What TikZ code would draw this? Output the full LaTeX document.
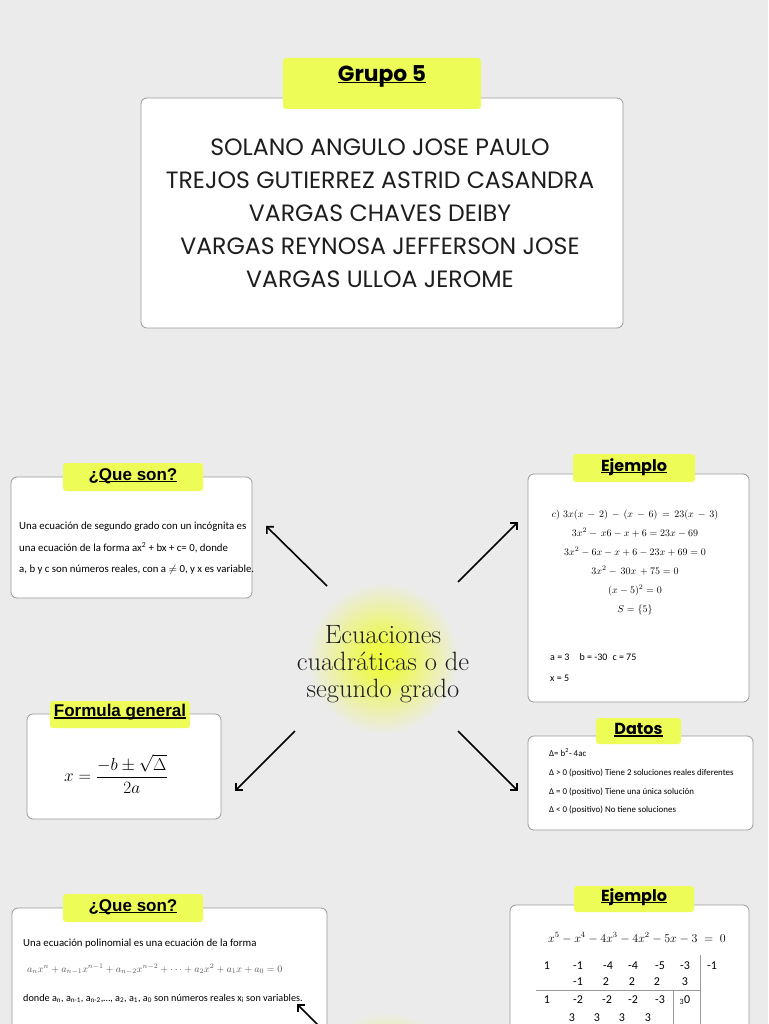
\documentclass[tikz,border=0pt]{standalone}
\usepackage{fontspec}
\usepackage{amsmath}
\usetikzlibrary{arrows.meta}
\newfontfamily\popf{Poppins}
\newfontfamily\arialf{Liberation Sans}
\newfontfamily\carlf{Carlito}
\definecolor{bg}{HTML}{EBEBEB}
\definecolor{tabyellow}{HTML}{EDFC57}
\definecolor{glowy}{HTML}{EEFA3A}
\definecolor{boxline}{HTML}{9A9A9A}
\definecolor{formgrey}{HTML}{555555}
\definecolor{ink}{HTML}{1E1E1E}
\pgfdeclareradialshading{glowshade}{\pgfpoint{0bp}{0bp}}{color(0bp)=(glowy); color(6bp)=(glowy!88!bg); color(15bp)=(glowy!45!bg); color(25bp)=(bg); color(50bp)=(bg)}
\newcommand{\myul}[1]{\setbox0\hbox{#1}\rlap{\rule[-2.2pt]{\wd0}{1.3pt}}\box0}
\tikzset{
  card/.style={draw=boxline, line width=0.8pt, fill=white, rounded corners=6pt, inner sep=0pt},
  tab/.style={fill=tabyellow, rounded corners=3pt, inner sep=0pt},
  headpop/.style={inner sep=0pt, font=\popf\bfseries\fontsize{16}{18}\selectfont},
  headarial/.style={inner sep=0pt, font=\arialf\bfseries\fontsize{17}{19}\selectfont},
  body/.style={anchor=base west, inner sep=0pt, font=\carlf\fontsize{10.8}{12}\selectfont},
  small/.style={anchor=base west, inner sep=0pt, font=\carlf\fontsize{8.9}{10}\selectfont},
  mathline/.style={anchor=base, inner sep=0pt, font=\fontsize{10}{12}\selectfont},
  num/.style={anchor=base, inner sep=0pt, font=\carlf\fontsize{12}{14}\selectfont},
  arr/.style={line width=1.6pt, -{Straight Barb[length=5pt,width=10pt,line width=1.6pt]}},
  rule/.style={draw=boxline, line width=0.7pt}
}
\begin{document}
\begin{tikzpicture}[x=1pt,y=-1pt]
\useasboundingbox (0,0) rectangle (768,1024);
\clip (0,0) rectangle (768,1024);
\fill[bg] (0,0) rectangle (768,1024);

% glows
\shade[shading=glowshade] (383,658) circle (76pt);
\shade[shading=glowshade] (386,1088) circle (76pt);

% group box
\node[card, minimum width=482pt, minimum height=230pt] (groupbox) at (382,213) {};
\node[tab, minimum width=198pt, minimum height=51pt] (grouptab) at (382,83.5) {};
\node[inner sep=0pt, font=\popf\bfseries\fontsize{21.8}{24}\selectfont] (grouplbl) at (382,76) {\myul{Grupo 5}};
\node[text=ink, font=\popf\fontsize{23.6}{33}\selectfont, align=center, inner sep=0pt] (names) at (380,213)
  {SOLANO ANGULO JOSE PAULO\\TREJOS GUTIERREZ ASTRID CASANDRA\\VARGAS CHAVES DEIBY\\VARGAS REYNOSA JEFFERSON JOSE\\VARGAS ULLOA JEROME};

% center topic
\node[text=ink, font=\fontsize{26.5}{27}\selectfont, align=center, inner sep=0pt] (title) at (383,664)
  {Ecuaciones\\cuadráticas o de\\segundo grado};

% que son box
\node[card, minimum width=241pt, minimum height=121pt] (qsbox) at (131.5,537.5) {};
\node[tab, minimum width=140pt, minimum height=28pt] (qstab) at (133,477) {};
\node[headarial] (qslbl) at (133,476) {¿\myul{Que son?}};
\node[body] (qs1) at (19,529) {Una ecuación de segundo grado con un incógnita es};
\node[body] (qs2) at (19,551) {una ecuación de la forma ax\textsuperscript{2} + bx + c= 0, donde};
\node[body] (qs3) at (19,572) {a, b y c son números reales, con a $\neq$ 0, y x es variable.};

% ejemplo box
\node[card, minimum width=221pt, minimum height=228pt] (ejbox) at (638.5,588) {};
\node[tab, minimum width=122pt, minimum height=28pt] (ejtab) at (634,468) {};
\node[headpop] (ejlbl) at (634,467) {\myul{Ejemplo}};
\node[mathline] (e1) at (635,517) {$c)\ 3x(x\,-\,2)\,-\,(x\,-\,6)\,=\,23(x\,-\,3)$};
\node[mathline] (e2) at (635,536) {$3x^2-\,x6-x+6=23x-69$};
\node[mathline] (e3) at (635,555) {$3x^2-6x-x+6-23x+69=0$};
\node[mathline] (e4) at (635,574) {$3x^2-\,30x\,+75=0$};
\node[mathline] (e5) at (635,593) {$(x-5)^2=0$};
\node[mathline] (e6) at (635,612) {$S=\{5\}$};
\node[anchor=base west, inner sep=0pt, font=\carlf\fontsize{10}{12}\selectfont] (abc) at (550,660) {a = 3\hspace{1em}b = -30\hspace{0.5em}c = 75};
\node[anchor=base west, inner sep=0pt, font=\carlf\fontsize{10}{12}\selectfont] (xs) at (550,681) {x = 5};

% formula general
\node[card, minimum width=194pt, minimum height=105pt] (fgbox) at (124,766.5) {};
\node[tab, minimum width=140pt, minimum height=27pt] (fgtab) at (120,714.5) {};
\node[headarial] (fglbl) at (120,712) {\myul{Formula general}};
\node[inner sep=0pt, font=\fontsize{16}{19}\selectfont] (fg) at (116,774) {$\displaystyle x = \frac{-b\pm\sqrt{\Delta}}{2a}$};

% datos
\node[card, minimum width=225pt, minimum height=94pt] (dtbox) at (640.5,783) {};
\node[tab, minimum width=85pt, minimum height=26pt] (dttab) at (638.5,731) {};
\node[headpop] (dtlbl) at (638.5,730) {\myul{Datos}};
\node[small] (d1) at (549,756) {Δ= b\textsuperscript{2}- 4ac};
\node[small] (d2) at (549,775) {Δ > 0 (positivo) Tiene 2 soluciones reales diferentes};
\node[small] (d3) at (549,794) {Δ = 0 (positivo) Tiene una única solución};
\node[small] (d4) at (549,812) {Δ < 0 (positivo) No tiene soluciones};

% bottom left que son
\node[card, minimum width=315pt, minimum height=160pt] (qs2box) at (169.5,988) {};
\node[tab, minimum width=140pt, minimum height=28pt] (qs2tab) at (133,908) {};
\node[headarial] (qs2lbl) at (133,907) {¿\myul{Que son?}};
\node[body] (p1) at (23,946) {Una ecuación polinomial es una ecuación de la forma};
\node[anchor=base west, inner sep=0pt, text=formgrey, font=\fontsize{10}{12}\selectfont] (p2) at (27,972)
  {$a_nx^n + a_{n-1}x^{n-1} + a_{n-2}x^{n-2} + \cdots + a_2x^2 + a_1x + a_0 = 0$};
\node[body, font=\carlf\fontsize{10.2}{12}\selectfont] (p3) at (23,1001) {donde a\textsubscript{n}, a\textsubscript{n-1}, a\textsubscript{n-2},…, a\textsubscript{2}, a\textsubscript{1}, a\textsubscript{0} son números reales x\textsubscript{i} son variables.};

% bottom right ejemplo
\node[card, minimum width=239pt, minimum height=160pt] (ej2box) at (629.5,985) {};
\node[tab, minimum width=120pt, minimum height=26pt] (ej2tab) at (634,899) {};
\node[headpop] (ej2lbl) at (634,897) {\myul{Ejemplo}};
\node[anchor=base, inner sep=0pt, font=\fontsize{12}{14}\selectfont] (poly) at (637,942) {$x^5 - x^4 - 4x^3 - 4x^2 - 5x - 3 \;=\; 0$};
\coordinate (vtop) at (700,955);
\coordinate (vbot) at (700,1030);
\coordinate (hl) at (536,990);
\coordinate (hr) at (700,990);
\coordinate (v2top) at (673,990);
\coordinate (v2bot) at (673,1030);
\draw[rule] (vtop) -- (vbot);
\draw[rule] (hl) -- (hr);
\draw[rule] (v2top) -- (v2bot);
\foreach \v/\x [count=\i] in {1/547,-1/578,-4/608,-4/633,-5/660,-3/685,-1/712}
  \node[num] (ra\i) at (\x,969) {\v};
\foreach \v/\x [count=\i] in {-1/578,2/606,2/632,2/657,3/685}
  \node[num] (rb\i) at (\x,985) {\v};
\foreach \v/\x [count=\i] in {1/547,-2/578,-2/607,-2/633,-3/660}
  \node[num] (rc\i) at (\x,1003) {\v};
\node[num] (rc6) at (685,1003) {\textsubscript{3}0};
\foreach \v/\x [count=\i] in {3/572,3/597,3/622,3/648}
  \node[num] (rd\i) at (\x,1021) {\v};

% arrows
\coordinate (a1s) at (327,586); \coordinate (a1e) at (266,526);
\coordinate (a2s) at (458,582); \coordinate (a2e) at (518,522);
\coordinate (a3s) at (295,731); \coordinate (a3e) at (235,791);
\coordinate (a4s) at (458,731); \coordinate (a4e) at (518,791);
\coordinate (a5s) at (328,1035); \coordinate (a5e) at (297,1004);
\draw[arr] (a1s) -- (a1e);
\draw[arr] (a2s) -- (a2e);
\draw[arr] (a3s) -- (a3e);
\draw[arr] (a4s) -- (a4e);
\draw[arr] (a5s) -- (a5e);
\end{tikzpicture}
\end{document}
